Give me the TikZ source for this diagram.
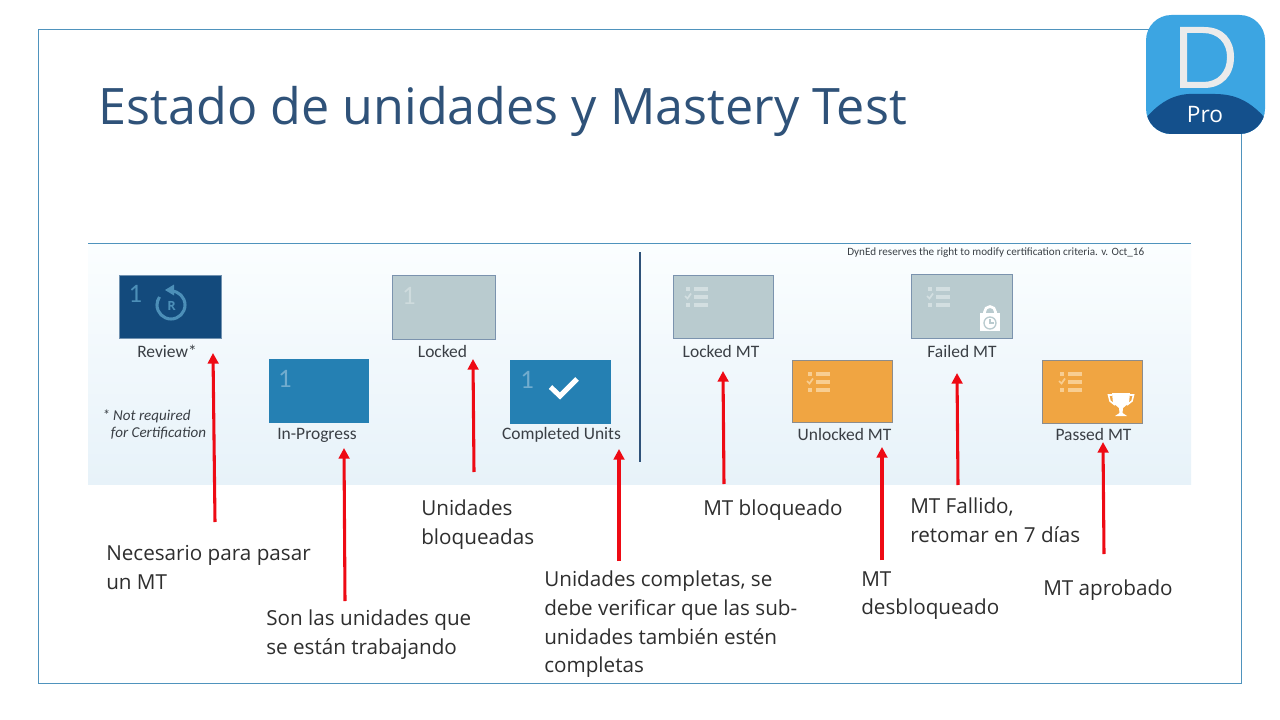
\documentclass[tikz,border=0pt]{standalone}
\usepackage{fontspec}
\setmainfont{Open Sans}
\newfontfamily\carl{Carlito}
\usetikzlibrary{arrows.meta}
\definecolor{frameblue}{HTML}{4F93BD}
\definecolor{titleblue}{HTML}{2F5279}
\definecolor{inkdark}{HTML}{3A3F45}
\definecolor{revblue}{HTML}{134A7C}
\definecolor{progblue}{HTML}{2580B3}
\definecolor{lockgrey}{HTML}{B9CBCF}
\definecolor{mtorange}{HTML}{F0A542}
\definecolor{boxline}{HTML}{7B93AE}
\definecolor{arrowred}{HTML}{EE0A14}
\definecolor{appblue}{HTML}{3CA5E2}
\definecolor{appdark}{HTML}{14508C}
\definecolor{bandtop}{HTML}{FBFEFF}
\definecolor{bandbot}{HTML}{E7F2F9}
\definecolor{reviewicon}{HTML}{4C8FB8}
\definecolor{greylist}{HTML}{D3DFE1}
\definecolor{orangelist}{HTML}{F8CE92}
\tikzset{
  x=0.75pt,y=-0.75pt,
  tile/.style={minimum width=#1*0.75pt,minimum height=47.5pt,inner sep=0pt,anchor=north west,line width=0.6pt},
  tile/.default=101,
  cap label/.style={font=\carl\fontsize{13.1pt}{15pt}\selectfont,text=inkdark,inner sep=0pt},
  note/.style={font=\fontsize{15.5pt}{21.5pt}\selectfont,text=black!82,align=left,anchor=north west,inner sep=0pt},
  num/.style={font=\carl\fontsize{20pt}{20pt}\selectfont,inner sep=0pt},
  redarrow/.style={draw=arrowred,line width=2.3pt,-{Triangle[length=8pt,width=8pt]}},
}
\newcommand{\listicon}[3]{% x y colour
  \begin{scope}[shift={(#1,#2)},#3]
    \fill (1,0) rectangle (4.5,3.5);
    \fill (9,0) rectangle (23,3.5);
    \fill (9,8) rectangle (23,11.5);
    \fill (1,16) rectangle (4.5,19.5);
    \fill (9,16) rectangle (23,19.5);
    \draw[line width=1.3pt,#3] (0,9) -- (2.5,11.5) -- (6,6.5);
  \end{scope}}
\begin{document}
\begin{tikzpicture}
\useasboundingbox (0,0) rectangle (1280,720);
\fill[white] (0,0) rectangle (1280,720);
\draw[frameblue,line width=0.9pt] (38.5,29.5) rectangle (1241.5,683.5);
\node[anchor=base west,inner sep=0pt,text=titleblue,font=\fontsize{37.7pt}{44pt}\selectfont] (title) at (98.5,125) {Estado de unidades y Mastery Test};
% band
\fill[top color=bandtop,bottom color=bandbot] (88,244) rectangle (1191,484);
\draw[frameblue,line width=1.2pt] (88,243.5) -- (1191,243.5);
\draw[titleblue,line width=2.2pt] (640,252) -- (640,462);
\node[anchor=west,inner sep=0pt,text=inkdark,font=\carl\fontsize{8.35pt}{9pt}\selectfont] (disc) at (847,253) {DynEd reserves the right to modify certification criteria. v. Oct\_16};
% tiles
\node[tile=102,fill=revblue,draw=revblue!60!white] (review) at (119,275) {};
\node[tile=103,fill=lockgrey,draw=boxline,minimum height=48pt] (locked) at (392,275) {};
\node[tile=100,fill=progblue,minimum height=48pt] (progress) at (269,359) {};
\node[tile=101,fill=progblue,minimum height=47.5pt] (completed) at (510,360) {};
\node[tile=100,fill=lockgrey,draw=boxline] (lockedmt) at (673,275) {};
\node[tile=101,fill=lockgrey,draw=boxline,minimum height=48pt] (failedmt) at (911,274) {};
\node[tile=100,fill=mtorange,draw=black!45,minimum height=46.5pt] (unlockedmt) at (792,360) {};
\node[tile=100,fill=mtorange,draw=black!45] (passedmt) at (1042,360) {};
% numbers
\node[num,text=reviewicon] (n1) at (135.5,294) {1};
\node[num,text=white!30!lockgrey] (n2) at (409,296) {1};
\node[num,text=white!35!progblue] (n3) at (285,379) {1};
\node[num,text=white!35!progblue] (n4) at (527,380) {1};
% review icon
\draw[reviewicon,line width=2.3pt] (171,291) arc[start angle=-90,end angle=215,radius=14];
\fill[reviewicon] (165,290) -- (174,284.5) -- (174,295.5) -- cycle;
\node[inner sep=0pt,text=reviewicon,font=\bfseries\fontsize{9.5pt}{10pt}\selectfont] (rr) at (171.5,305.5) {R};
% check
\draw[white,line width=3.8pt] (550.5,387) -- (560,396) -- (577,379);
% list icons
\listicon{685}{287}{color=greylist}
\listicon{927}{287}{color=greylist}
\listicon{807}{372}{color=orangelist}
\listicon{1059}{372}{color=orangelist}
% lock with clock
\fill[white] (980,313) rectangle (1000,331);
\draw[white,line width=2pt] (984.5,313) -- (984.5,312) arc[start angle=180,end angle=360,radius=5.5] -- (995.5,313);
\draw[lockgrey,line width=1pt] (990,323) circle[radius=6];
\draw[lockgrey,line width=0.8pt] (990,319) -- (990,323) -- (993.5,323);
% trophy
\fill[white] (1112,393) -- (1130,393) -- (1129,403) -- (1123,408) -- (1122.5,413) -- (1127,416) -- (1115,416) -- (1119.5,413) -- (1119,408) -- (1113,403) -- cycle;
\draw[white,line width=1.2pt] (1112,395) -- (1108.5,395) -- (1110,401) -- (1115,405);
\draw[white,line width=1.2pt] (1130,395) -- (1133.5,395) -- (1132,401) -- (1127,405);
% captions
\node[cap label] (cReview) at (167,351.5) {Review*};
\node[cap label] (cLocked) at (442.5,351.5) {Locked};
\node[cap label] (cProgress) at (317,435.5) {In-Progress};
\node[cap label] (cCompleted) at (561.5,434.5) {Completed Units};
\node[cap label] (cLockedMT) at (721,351.5) {Locked MT};
\node[cap label] (cUnlockedMT) at (844.5,434.5) {Unlocked MT};
\node[cap label] (cFailedMT) at (962,351.5) {Failed MT};
\node[cap label] (cPassedMT) at (1093.5,434.5) {Passed MT};
\node[anchor=north west,align=left,inner sep=0pt,text=inkdark,font=\carl\itshape\fontsize{11.3pt}{12.9pt}\selectfont] (notreq) at (102,409.5) {* Not required\\\hspace*{6.5pt}for Certification};
% notes
\node[note] (tReview) at (106,545) {Necesario para pasar\\un MT};
\node[note] (tProgress) at (266,610) {Son las unidades que\\se están trabajando};
\node[note] (tLocked) at (421,500) {Unidades\\bloqueadas};
\node[note] (tCompleted) at (544,571) {Unidades completas, se\\debe verificar que las sub-\\unidades también estén\\completas};
\node[note] (tLockedMT) at (703,500) {MT bloqueado};
\node[note] (tUnlockedMT) at (861,571) {MT\\desbloqueado};
\node[note] (tFailedMT) at (910,498) {MT Fallido,\\retomar en 7 días};
\node[note] (tPassedMT) at (1043,580) {MT aprobado};
% arrow ends
\coordinate (a1) at (215,522); \coordinate (b1) at (213,353);
\coordinate (a2) at (345,601); \coordinate (b2) at (344,448);
\coordinate (a3) at (474,472); \coordinate (b3) at (473,359);
\coordinate (a4) at (619,561); \coordinate (b4) at (619,449);
\coordinate (a5) at (724,484); \coordinate (b5) at (723,371);
\coordinate (a6) at (882,560); \coordinate (b6) at (882,447);
\coordinate (a7) at (958,485); \coordinate (b7) at (957,373);
\coordinate (a8) at (1104,554); \coordinate (b8) at (1103,442);
\foreach \i in {1,...,8} \draw[redarrow] (a\i) -- (b\i);
% app icon
\fill[appblue,rounded corners=19pt] (1146,15) rectangle (1265,134);
\begin{scope}
  \clip[rounded corners=19pt] (1146,15) rectangle (1265,134);
  \fill[appdark] (1146,118) .. controls (1170,90) and (1190,94) .. (1205,94) .. controls (1222,94) and (1242,92) .. (1265,118) -- (1265,134) -- (1146,134) -- cycle;
\end{scope}
\node[inner sep=0pt,text=white,font=\fontsize{17pt}{18pt}\selectfont] (pro) at (1205,115) {Pro};
\fill[even odd rule,white!92!black] (1180,27) -- (1204,27) .. controls (1224,27) and (1234,40) .. (1234,57) .. controls (1234,76) and (1222,88) .. (1204,88) -- (1180,88) -- cycle
 (1187,33) -- (1187,82) -- (1203,82) .. controls (1218,82) and (1227,72) .. (1227,57) .. controls (1227,43) and (1218,33) .. (1203,33) -- cycle;
\end{tikzpicture}
\end{document}
